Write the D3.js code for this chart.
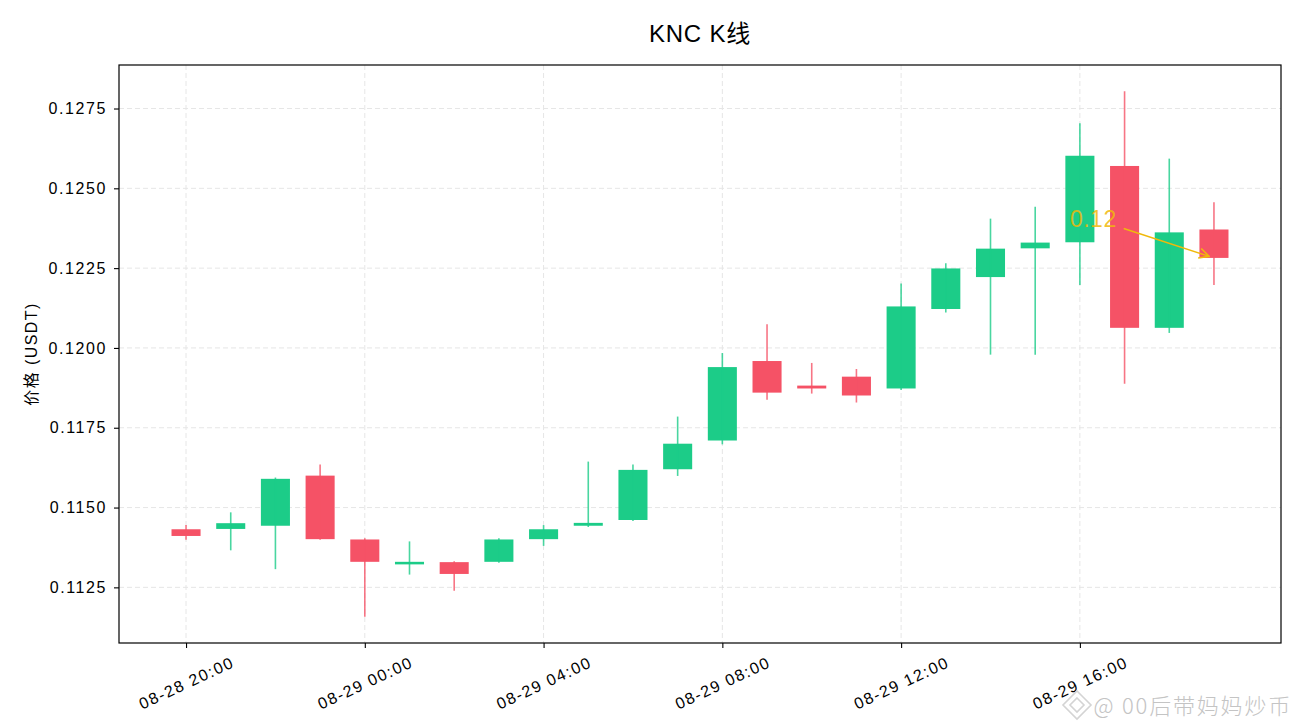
<!DOCTYPE html>
<html lang="zh">
<head>
    <meta charset="UTF-8">
    <title>KNC K线</title>
    <style>
        body {
            margin: 0;
            padding: 0;
            background: #fff;
        }

        svg {
            display: block;
        }

        .tick-label {
            font-family: "Liberation Sans", "Noto Sans CJK SC", sans-serif;
            font-size: 16px;
            letter-spacing: 1.6px;
            fill: #000;
        }

        .grid line {
            stroke: #e6e6e6;
            stroke-width: 1;
            stroke-dasharray: 5, 3;
        }
    </style>
</head>
<body>
    <svg id="chart" width="1300" height="728"></svg>

    <script src="https://d3js.org/d3.v7.min.js"></script>
    <script>
        // hourly candles, 08-28 20:00 .. 08-29 19:00
        const times = [
            "2024-08-28 20:00", "2024-08-28 21:00", "2024-08-28 22:00", "2024-08-28 23:00",
            "2024-08-29 00:00", "2024-08-29 01:00", "2024-08-29 02:00", "2024-08-29 03:00",
            "2024-08-29 04:00", "2024-08-29 05:00", "2024-08-29 06:00", "2024-08-29 07:00",
            "2024-08-29 08:00", "2024-08-29 09:00", "2024-08-29 10:00", "2024-08-29 11:00",
            "2024-08-29 12:00", "2024-08-29 13:00", "2024-08-29 14:00", "2024-08-29 15:00",
            "2024-08-29 16:00", "2024-08-29 17:00", "2024-08-29 18:00", "2024-08-29 19:00"
        ];
        const openPrices = [0.11432, 0.11433, 0.11443, 0.11600, 0.11400, 0.11322, 0.11329, 0.11330,
            0.11401, 0.11443, 0.11461, 0.11620, 0.11710, 0.11959, 0.11882, 0.11910,
            0.11873, 0.12122, 0.12222, 0.12312, 0.12331, 0.12570, 0.12063, 0.12371];
        const highPrices = [0.11445, 0.11485, 0.11594, 0.11635, 0.11404, 0.11394, 0.11332, 0.11404,
            0.11445, 0.11644, 0.11635, 0.11785, 0.11984, 0.12074, 0.11953, 0.11934,
            0.12202, 0.12265, 0.12405, 0.12442, 0.12704, 0.12804, 0.12593, 0.12456];
        const lowPrices = [0.11399, 0.11366, 0.11307, 0.11399, 0.11158, 0.11290, 0.11239, 0.11327,
            0.11380, 0.11439, 0.11458, 0.11599, 0.11698, 0.11838, 0.11857, 0.11829,
            0.11868, 0.12111, 0.11979, 0.11979, 0.12197, 0.11888, 0.12047, 0.12197];
        const closePrices = [0.11411, 0.11451, 0.11590, 0.11401, 0.11330, 0.11330, 0.11292, 0.11400,
            0.11432, 0.11452, 0.11618, 0.11700, 0.11940, 0.11860, 0.11873, 0.11851,
            0.12130, 0.12249, 0.12311, 0.12330, 0.12602, 0.12063, 0.12362, 0.12282];

        const yTicks = [0.1125, 0.1150, 0.1175, 0.1200, 0.1225, 0.1250, 0.1275];
        const xTickTimes = ["2024-08-28 20:00", "2024-08-29 00:00", "2024-08-29 04:00",
            "2024-08-29 08:00", "2024-08-29 12:00", "2024-08-29 16:00"];

        const annotationText = "0.12";
        const annotationAt = ["2024-08-29 16:18", 0.12405];   // text centre
        const titleText = "KNC K线";
        const yLabelText = "价格 (USDT)";
        const watermarkText = "@ 00后带妈妈炒币";

        const upColor = "#1ccc88";
        const downColor = "#f55266";
        const noteColor = "#f0b90b";

        const parse = d3.timeParse("%Y-%m-%d %H:%M");
        const candles = times.map((t, i) => ({
            t: parse(t),
            o: openPrices[i],
            h: highPrices[i],
            l: lowPrices[i],
            c: closePrices[i]
        }));

        const svg = d3.select("#chart");
        const margin = { left: 119, right: 19, top: 65, bottom: 85 };
        const W = 1300, H = 728;
        const plotW = W - margin.left - margin.right;
        const plotH = H - margin.top - margin.bottom;

        const hour = 3600 * 1000;
        const first = candles[0].t, last = candles[candles.length - 1].t;
        const x = d3.scaleTime()
            .domain([new Date(+first - 1.5 * hour), new Date(+last + 1.5 * hour)])
            .range([margin.left, margin.left + plotW]);

        const lo = d3.min(lowPrices), hi = d3.max(highPrices);
        const pad = (hi - lo) * 0.05;
        const y = d3.scaleLinear()
            .domain([lo - pad, hi + pad])
            .range([margin.top + plotH, margin.top]);

        const hourPx = x(new Date(+first + hour)) - x(first);
        const bodyW = hourPx * 0.65;

        // grid
        const grid = svg.append("g").attr("class", "grid");
        grid.selectAll(".gx")
            .data(xTickTimes.map(parse))
            .enter().append("line")
            .attr("x1", d => x(d)).attr("x2", d => x(d))
            .attr("y1", margin.top).attr("y2", margin.top + plotH);
        grid.selectAll(".gy")
            .data(yTicks)
            .enter().append("line")
            .attr("x1", margin.left).attr("x2", margin.left + plotW)
            .attr("y1", d => y(d)).attr("y2", d => y(d));

        // candles: bodies then wicks on top
        const cg = svg.append("g");
        cg.selectAll("rect.body")
            .data(candles)
            .enter().append("rect")
            .attr("class", "body")
            .attr("x", d => x(d.t) - bodyW / 2)
            .attr("width", bodyW)
            .attr("y", d => y(Math.max(d.o, d.c)))
            .attr("height", d => Math.max(1.5, Math.abs(y(d.o) - y(d.c))))
            .attr("fill", d => d.c >= d.o ? upColor : downColor);

        cg.selectAll("line.wick")
            .data(candles)
            .enter().append("line")
            .attr("class", "wick")
            .attr("x1", d => x(d.t)).attr("x2", d => x(d.t))
            .attr("y1", d => y(d.h)).attr("y2", d => y(d.l))
            .attr("stroke", d => d.c >= d.o ? upColor : downColor)
            .attr("stroke-width", 1.6)
            .attr("stroke-opacity", 0.8);

        // frame
        svg.append("rect")
            .attr("x", margin.left).attr("y", margin.top)
            .attr("width", plotW).attr("height", plotH)
            .attr("fill", "none").attr("stroke", "#000").attr("stroke-width", 1.2);

        // y axis
        const yAxis = svg.append("g")
            .attr("transform", `translate(${margin.left},0)`)
            .call(d3.axisLeft(y).tickValues(yTicks).tickFormat(d3.format(".4f")).tickSize(5).tickPadding(7));
        yAxis.select(".domain").remove();
        yAxis.selectAll(".tick line").attr("stroke", "#000").attr("stroke-width", 1.1);
        yAxis.selectAll(".tick text").attr("class", "tick-label").attr("font-family", null).attr("font-size", null);

        // x axis
        const xAxis = svg.append("g")
            .attr("transform", `translate(0,${margin.top + plotH})`)
            .call(d3.axisBottom(x).tickValues(xTickTimes.map(parse)).tickFormat(d3.timeFormat("%m-%d %H:%M")).tickSize(5));
        xAxis.select(".domain").remove();
        xAxis.selectAll(".tick line").attr("stroke", "#000").attr("stroke-width", 1.1);
        xAxis.selectAll(".tick text")
            .attr("class", "tick-label")
            .attr("font-family", null).attr("font-size", null)
            .attr("y", 0).attr("dy", null)
            .attr("text-anchor", "middle")
            .attr("dominant-baseline", "central")
            .attr("transform", "translate(0,40) rotate(-25)");

        // title
        svg.append("text")
            .attr("x", margin.left + plotW / 2)
            .attr("y", 42)
            .attr("text-anchor", "middle")
            .attr("font-family", "'Liberation Sans', 'Noto Sans CJK SC', sans-serif")
            .attr("font-size", 24)
            .attr("letter-spacing", 0.8)
            .text(titleText);

        // y label
        svg.append("text")
            .attr("transform", `translate(31,${margin.top + plotH / 2}) rotate(-90)`)
            .attr("text-anchor", "middle")
            .attr("dominant-baseline", "central")
            .attr("font-family", "'Liberation Sans', 'Noto Sans CJK SC', sans-serif")
            .attr("font-size", 16)
            .attr("letter-spacing", 1.4)
            .text(yLabelText);

        // annotation with arrow to last close
        const defs = svg.append("defs");
        defs.append("marker")
            .attr("id", "arrowhead")
            .attr("viewBox", "0 0 12 12")
            .attr("refX", 11).attr("refY", 6)
            .attr("markerWidth", 12).attr("markerHeight", 12)
            .attr("markerUnits", "userSpaceOnUse")
            .attr("orient", "auto")
            .append("path")
            .attr("d", "M1,1 L11,6 L1,11")
            .attr("fill", "none")
            .attr("stroke", noteColor)
            .attr("stroke-width", 1.5);

        const tx = x(parse(annotationAt[0])), ty = y(annotationAt[1]);
        const lastC = candles[candles.length - 1];
        const px = x(lastC.t), py = y(lastC.c);
        svg.append("text")
            .attr("x", tx).attr("y", ty)
            .attr("text-anchor", "middle")
            .attr("dominant-baseline", "central")
            .attr("font-family", "'Liberation Sans', sans-serif")
            .attr("font-size", 23)
            .attr("letter-spacing", 0.5)
            .attr("fill", noteColor)
            .attr("fill-opacity", 0.85)
            .text(annotationText);

        const dx = px - tx, dy = py - ty, len = Math.hypot(dx, dy);
        const startOff = 32, endOff = 5;
        svg.append("line")
            .attr("x1", tx + dx / len * startOff).attr("y1", ty + dy / len * startOff)
            .attr("x2", px - dx / len * endOff).attr("y2", py - dy / len * endOff)
            .attr("stroke", noteColor)
            .attr("stroke-width", 1.5)
            .attr("marker-end", "url(#arrowhead)");

        // watermark
        const wm = svg.append("g");
        wm.append("path")
            .attr("d", "M1077,691 L1091,705 L1077,719 L1063,705 Z M1077,698 L1084,705 L1077,712 L1070,705 Z")
            .attr("fill", "none")
            .attr("stroke", "#d4d4d4")
            .attr("stroke-width", 1.6);
        wm.append("text")
            .attr("x", 1292).attr("y", 704)
            .attr("text-anchor", "end")
            .attr("dominant-baseline", "central")
            .attr("font-family", "'Noto Sans CJK SC', sans-serif")
            .attr("font-size", 22)
            .attr("font-weight", 300)
            .attr("letter-spacing", 1.8)
            .attr("fill", "#c4c4c4")
            .text(watermarkText);
    </script>
</body>
</html>
